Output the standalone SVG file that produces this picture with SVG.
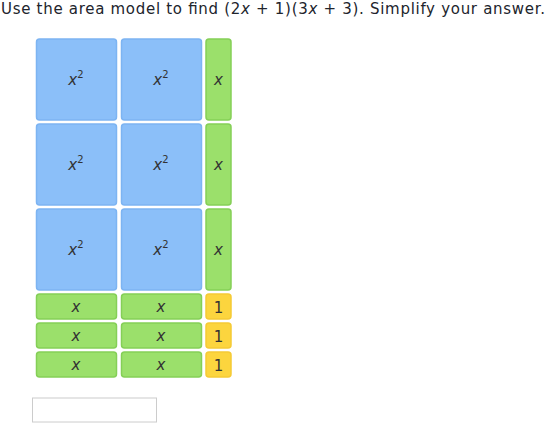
<svg xmlns="http://www.w3.org/2000/svg" width="546" height="424" viewBox="0 0 546 424">
<style>
.title{font-family:"DejaVu Sans","Liberation Sans",sans-serif;font-size:15px;fill:#21242c}
.sq{fill:#8bbff9;stroke:#7db4f2;stroke-width:1.5}
.gr{fill:#9be06b;stroke:#85cf57;stroke-width:1.5}
.ye{fill:#fcd53e;stroke:#f5ca35;stroke-width:1.5}
.lb{font-family:"DejaVu Sans","Liberation Sans",sans-serif;font-size:15px;fill:#333;text-anchor:middle}
.it{font-style:italic}
.sup{font-size:10px}
</style>
<rect width="546" height="424" fill="#fff"/>
<text class="title" x="1" y="14" textLength="544" lengthAdjust="spacing">Use the area model to find (2<tspan class="it">x</tspan> + 1)(3<tspan class="it">x</tspan> + 3). Simplify your answer.</text>
<g id="r1c1"><rect class="sq" x="36.5" y="39" width="80" height="81" rx="3"/><text class="lb" x="76" y="85"><tspan class="it">x</tspan><tspan class="sup" dy="-7">2</tspan></text></g>
<g id="r1c2"><rect class="sq" x="121.5" y="39" width="80" height="81" rx="3"/><text class="lb" x="161" y="85"><tspan class="it">x</tspan><tspan class="sup" dy="-7">2</tspan></text></g>
<g id="r1c3"><rect class="gr" x="206" y="39" width="25" height="81" rx="3"/><text class="lb it" x="218.5" y="85">x</text></g>
<g id="r2c1"><rect class="sq" x="36.5" y="124" width="80" height="81" rx="3"/><text class="lb" x="76" y="170"><tspan class="it">x</tspan><tspan class="sup" dy="-7">2</tspan></text></g>
<g id="r2c2"><rect class="sq" x="121.5" y="124" width="80" height="81" rx="3"/><text class="lb" x="161" y="170"><tspan class="it">x</tspan><tspan class="sup" dy="-7">2</tspan></text></g>
<g id="r2c3"><rect class="gr" x="206" y="124" width="25" height="81" rx="3"/><text class="lb it" x="218.5" y="170">x</text></g>
<g id="r3c1"><rect class="sq" x="36.5" y="209" width="80" height="81" rx="3"/><text class="lb" x="76" y="255"><tspan class="it">x</tspan><tspan class="sup" dy="-7">2</tspan></text></g>
<g id="r3c2"><rect class="sq" x="121.5" y="209" width="80" height="81" rx="3"/><text class="lb" x="161" y="255"><tspan class="it">x</tspan><tspan class="sup" dy="-7">2</tspan></text></g>
<g id="r3c3"><rect class="gr" x="206" y="209" width="25" height="81" rx="3"/><text class="lb it" x="218.5" y="255">x</text></g>
<g id="r4c1"><rect class="gr" x="36.5" y="294" width="80" height="25" rx="3"/><text class="lb it" x="76" y="312">x</text></g>
<g id="r4c2"><rect class="gr" x="121.5" y="294" width="80" height="25" rx="3"/><text class="lb it" x="161" y="312">x</text></g>
<g id="r4c3"><rect class="ye" x="206" y="294" width="25" height="25" rx="3"/><text class="lb" x="218.5" y="312.5">1</text></g>
<g id="r5c1"><rect class="gr" x="36.5" y="323" width="80" height="25" rx="3"/><text class="lb it" x="76" y="341">x</text></g>
<g id="r5c2"><rect class="gr" x="121.5" y="323" width="80" height="25" rx="3"/><text class="lb it" x="161" y="341">x</text></g>
<g id="r5c3"><rect class="ye" x="206" y="323" width="25" height="25" rx="3"/><text class="lb" x="218.5" y="341.5">1</text></g>
<g id="r6c1"><rect class="gr" x="36.5" y="352" width="80" height="25" rx="3"/><text class="lb it" x="76" y="370">x</text></g>
<g id="r6c2"><rect class="gr" x="121.5" y="352" width="80" height="25" rx="3"/><text class="lb it" x="161" y="370">x</text></g>
<g id="r6c3"><rect class="ye" x="206" y="352" width="25" height="25" rx="3"/><text class="lb" x="218.5" y="370.5">1</text></g>
<g id="answer"><rect x="32.5" y="398" width="124" height="24" fill="#fff" stroke="#ccc" stroke-width="1"/></g>
<g id="connectors"/>
</svg>
